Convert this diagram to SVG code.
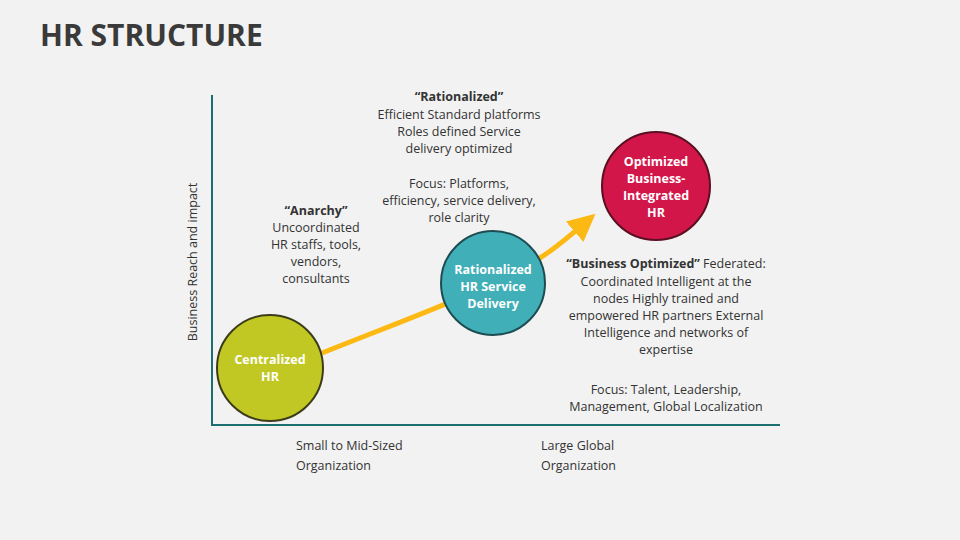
<svg xmlns="http://www.w3.org/2000/svg" width="960" height="540" viewBox="0 0 960 540">
<style>
text{font-family:"Open Sans","Noto Sans",sans-serif;fill:#333;font-size:12.5px}
.c{text-anchor:middle}
.b{font-weight:bold}
.w{fill:#fff;font-weight:bold;font-size:12.5px;text-anchor:middle}
</style>
<defs><marker id="ah" markerWidth="6" markerHeight="6" refX="3" refY="3" orient="auto" markerUnits="strokeWidth"><path d="M0,0.3 L5.5,3 L0,5.7 Z" fill="#FDB913"/></marker></defs>
<rect width="960" height="540" fill="#f2f2f2"/>
<text x="40" y="46" style="font-size:30px;font-weight:bold;fill:#3a3a3a">HR STRUCTURE</text>
<g id="axes" fill="none" stroke="#1d6e6e" stroke-width="2">
<path d="M212,95 V425 H780"/>
</g>
<text transform="translate(197,262) rotate(-90)" class="c">Business Reach and impact</text>
<text x="296" y="450">Small to Mid-Sized</text><text x="296" y="470">Organization</text>
<text x="541" y="450">Large Global</text><text x="541" y="470">Organization</text>
<g id="connectors"><path d="M322,353 C400,322 460,300 505,278 C545,258 565,240 586,222" fill="none" stroke="#FDB913" stroke-width="5" marker-end="url(#ah)"/></g>
<g id="n1"><circle cx="270" cy="368" r="53" fill="#C1C823" stroke="#3c3c1a" stroke-width="2"/><text x="270" y="364" class="w">Centralized</text><text x="270" y="381" class="w">HR</text></g>
<g id="n2"><circle cx="493" cy="283" r="52" fill="#40AFB8" stroke="#1d4d52" stroke-width="2"/><text x="493" y="274" class="w">Rationalized</text><text x="493" y="291" class="w">HR Service</text><text x="493" y="308" class="w">Delivery</text></g>
<g id="n3"><circle cx="656" cy="186" r="54" fill="#D3164A" stroke="#5a1020" stroke-width="2"/><text x="656" y="166" class="w">Optimized</text><text x="656" y="183" class="w">Business-</text><text x="656" y="200" class="w">Integrated</text><text x="656" y="217" class="w">HR</text></g>
<g id="t1" class="c"><text x="316" y="215" class="c b">“Anarchy”</text><text x="316" y="232" class="c">Uncoordinated</text><text x="316" y="249" class="c">HR staffs, tools,</text><text x="316" y="266" class="c">vendors,</text><text x="316" y="283" class="c">consultants</text></g>
<g id="t2"><text x="459" y="101" class="c b">“Rationalized”</text><text x="459" y="119" class="c">Efficient Standard platforms</text><text x="459" y="136" class="c">Roles defined Service</text><text x="459" y="153" class="c">delivery optimized</text>
<text x="459" y="188" class="c">Focus: Platforms,</text><text x="459" y="205" class="c">efficiency, service delivery,</text><text x="459" y="222" class="c">role clarity</text></g>
<g id="t3"><text x="666" y="268" class="c"><tspan class="b" style="font-weight:bold">“Business Optimized”</tspan> Federated:</text><text x="666" y="286" class="c">Coordinated Intelligent at the</text><text x="666" y="303" class="c">nodes Highly trained and</text><text x="666" y="320" class="c">empowered HR partners External</text><text x="666" y="337" class="c">Intelligence and networks of</text><text x="666" y="354" class="c">expertise</text>
<text x="666" y="394" class="c">Focus: Talent, Leadership,</text><text x="666" y="411" class="c">Management, Global Localization</text></g>
</svg>
